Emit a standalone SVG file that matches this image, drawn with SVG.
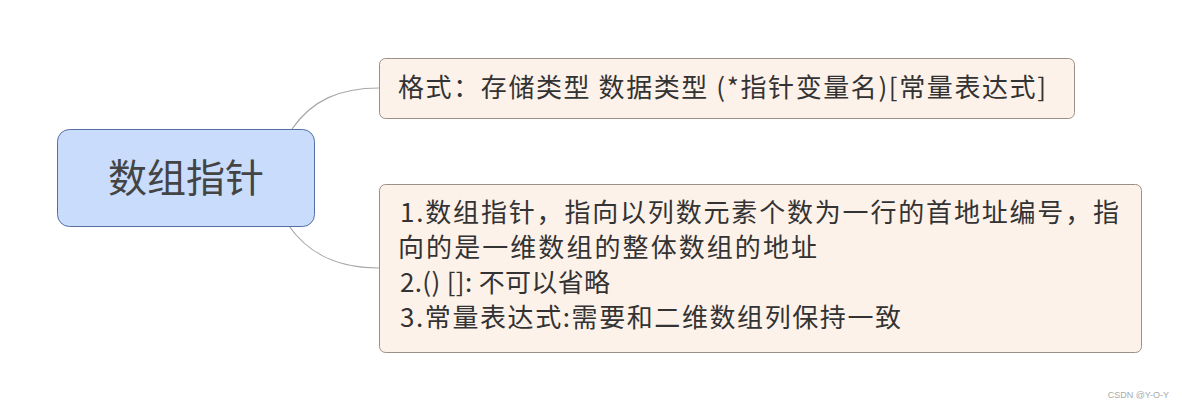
<svg xmlns="http://www.w3.org/2000/svg" width="1182" height="409" viewBox="0 0 1182 409">
<style>
.sub{fill:#fdf2ea;stroke:#9a9088;stroke-width:1}
.t{font-family:"Microsoft YaHei","Noto Sans CJK SC",sans-serif;font-size:26px;fill:#333}
.c{fill:none;stroke:#a8a8a8;stroke-width:1.2}
</style>
<rect width="1182" height="409" fill="#ffffff"/>
<g id="connectors">
<path class="c" d="M292,129 C312,100 340,88 379,88"/>
<path class="c" d="M289,226 C310,256 340,268 379,268"/>
</g>
<g id="root">
<rect x="57.5" y="129.5" width="257" height="97" rx="12" fill="#c9dcfb" stroke="#5470a3" stroke-width="1"/>
<text x="186" y="192" text-anchor="middle" font-family="'Noto Sans CJK SC',sans-serif" font-size="39" fill="#444">数组指针</text>
</g>
<g id="node-format">
<rect class="sub" x="379.5" y="58.5" width="695" height="60" rx="6"/>
<text class="t" x="398" y="97" textLength="648" lengthAdjust="spacing">格式：存储类型 数据类型 (*指针变量名)[常量表达式]</text>
</g>
<g id="node-notes">
<rect class="sub" x="379.5" y="184.5" width="762" height="168" rx="6"/>
<text class="t" x="400" y="222" textLength="719" lengthAdjust="spacing">1.数组指针，指向以列数元素个数为一行的首地址编号，指</text>
<text class="t" x="398" y="257" textLength="419" lengthAdjust="spacing">向的是一维数组的整体数组的地址</text>
<text class="t" x="400" y="292" textLength="210" lengthAdjust="spacing">2.() []: 不可以省略</text>
<text class="t" x="400" y="327" textLength="501" lengthAdjust="spacing">3.常量表达式:需要和二维数组列保持一致</text>
</g>
<text x="1169" y="398" text-anchor="end" font-family="'Liberation Sans',sans-serif" font-size="9" fill="#aaaaaa">CSDN @Y-O-Y</text>
</svg>
